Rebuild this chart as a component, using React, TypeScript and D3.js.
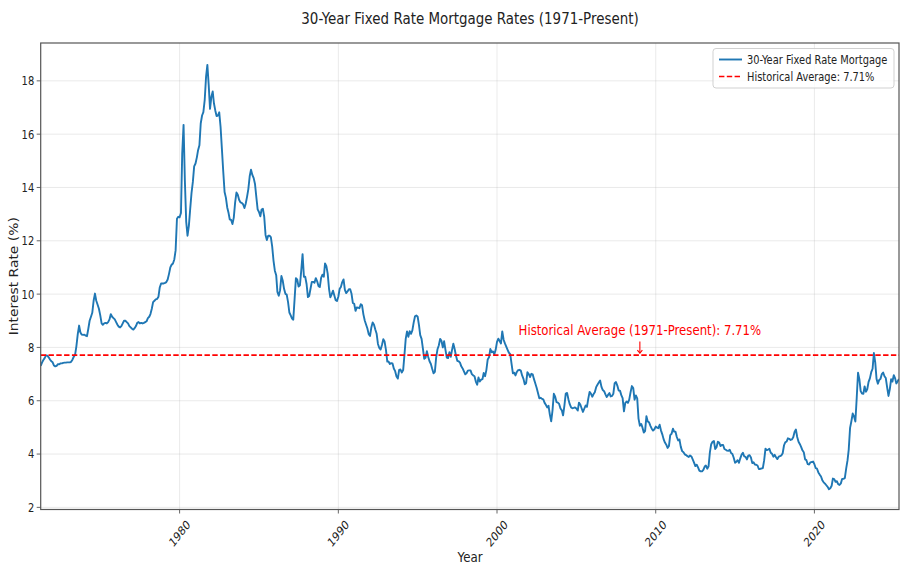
import React from "react";
import * as d3 from "d3";

// Monthly 30-year fixed mortgage rates (%), first value = April 1971
const rates1970s = [
  7.31, 7.43, 7.53, 7.60, 7.70, 7.69, 7.63, 7.55, 7.48,
  7.44, 7.32, 7.29, 7.31, 7.37, 7.37, 7.40, 7.40, 7.42, 7.43, 7.43, 7.44,
  7.44, 7.44, 7.46, 7.54, 7.65, 7.73, 8.05, 8.50, 8.82, 8.56, 8.48, 8.47,
  8.48, 8.44, 8.42, 8.70, 9.00, 9.15, 9.30, 9.75, 10.02, 9.75, 9.60, 9.45,
  9.20, 8.90, 8.85, 8.90, 8.92, 8.90, 8.95, 9.05, 9.25, 9.15, 9.10, 9.05,
  8.95, 8.85, 8.78, 8.75, 8.80, 8.90, 9.00, 9.00, 8.95, 8.90, 8.80, 8.75,
  8.70, 8.67, 8.72, 8.80, 8.92, 8.95, 8.90, 8.92, 8.90, 8.92, 8.95, 8.98,
  9.10, 9.15, 9.25, 9.45, 9.70, 9.75, 9.80, 9.82, 9.90, 10.25, 10.40, 10.40,
  10.40, 10.42, 10.45, 10.55, 10.75, 11.00, 11.10, 11.15, 11.30, 11.64, 12.83, 12.90,
];
const rates1980s = [
  12.88, 13.04, 15.28, 16.35, 14.26, 12.71, 12.19, 12.56, 13.20, 13.79, 14.21, 14.79,
  14.90, 15.13, 15.40, 15.58, 16.40, 16.70, 16.83, 17.29, 18.16, 18.60, 17.83, 16.95,
  17.40, 17.60, 17.16, 16.89, 16.68, 16.70, 16.82, 16.27, 15.43, 14.61, 13.83, 13.62,
  13.25, 13.04, 12.80, 12.78, 12.63, 12.87, 13.42, 13.81, 13.73, 13.54, 13.44, 13.42,
  13.37, 13.23, 13.39, 13.65, 13.94, 14.42, 14.67, 14.47, 14.35, 14.13, 13.64, 13.18,
  13.08, 12.92, 13.17, 13.20, 12.91, 12.22, 12.03, 12.19, 12.19, 12.14, 11.78, 11.26,
  10.88, 10.71, 10.08, 9.94, 10.14, 10.68, 10.51, 10.20, 10.01, 9.98, 9.70, 9.31,
  9.20, 9.08, 9.04, 9.83, 10.60, 10.54, 10.28, 10.33, 10.89, 11.50, 10.65, 10.65,
  10.38, 9.89, 9.93, 10.20, 10.46, 10.46, 10.43, 10.60, 10.48, 10.30, 10.27, 10.61,
  10.73, 10.65, 11.15, 11.05, 10.77, 10.20, 9.88, 9.99, 10.13, 9.95, 9.77, 9.74,
];
const rates1990s = [
  9.90, 10.20, 10.27, 10.45, 10.55, 10.16, 10.04, 10.10, 10.18, 10.18, 10.01, 9.67,
  9.64, 9.37, 9.50, 9.49, 9.47, 9.62, 9.58, 9.24, 9.01, 8.86, 8.71, 8.50,
  8.43, 8.76, 8.94, 8.85, 8.67, 8.51, 8.13, 7.98, 7.92, 8.09, 8.31, 8.22,
  7.91, 7.47, 7.47, 7.38, 7.41, 7.40, 7.21, 7.11, 6.91, 6.83, 7.16, 7.17,
  7.06, 7.15, 7.68, 8.32, 8.60, 8.40, 8.61, 8.51, 8.64, 8.93, 9.17, 9.20,
  9.15, 8.83, 8.46, 8.32, 7.96, 7.57, 7.61, 7.86, 7.64, 7.48, 7.38, 7.20,
  7.03, 7.08, 7.62, 7.93, 8.07, 8.32, 8.25, 8.00, 8.23, 7.92, 7.62, 7.60,
  7.82, 7.65, 7.90, 8.14, 7.94, 7.69, 7.50, 7.48, 7.43, 7.29, 7.21, 7.10,
  6.99, 7.04, 7.13, 7.14, 7.14, 7.00, 6.95, 6.92, 6.72, 6.60, 6.87, 6.72,
  6.79, 6.81, 7.04, 6.92, 7.15, 7.55, 7.63, 7.94, 7.82, 7.85, 7.74, 7.91,
];
const rates2000s = [
  8.21, 8.33, 8.24, 8.15, 8.60, 8.29, 8.15, 8.03, 7.91, 7.80, 7.75, 7.38,
  7.03, 7.05, 6.95, 7.08, 7.15, 7.16, 7.13, 6.95, 6.82, 6.62, 6.66, 7.07,
  7.00, 6.89, 7.01, 6.99, 6.81, 6.65, 6.49, 6.29, 6.09, 6.11, 6.07, 6.05,
  5.92, 5.84, 5.75, 5.81, 5.48, 5.23, 5.63, 6.26, 6.15, 5.95, 5.93, 5.88,
  5.71, 5.64, 5.45, 5.83, 6.27, 6.29, 6.06, 5.87, 5.75, 5.72, 5.73, 5.75,
  5.71, 5.63, 5.93, 5.86, 5.72, 5.58, 5.70, 5.82, 5.77, 6.07, 6.33, 6.27,
  6.15, 6.25, 6.32, 6.51, 6.60, 6.68, 6.76, 6.52, 6.40, 6.36, 6.24, 6.14,
  6.22, 6.29, 6.16, 6.18, 6.26, 6.66, 6.70, 6.57, 6.38, 6.38, 6.21, 6.10,
  5.60, 5.92, 5.97, 5.92, 6.04, 6.32, 6.55, 6.48, 6.04, 6.20, 6.09, 5.33,
  5.06, 5.13, 5.00, 4.81, 4.86, 5.42, 5.22, 5.19, 5.06, 4.95, 4.88, 4.93,
];
const rates2010s = [
  5.03, 4.99, 4.97, 5.10, 4.89, 4.74, 4.56, 4.43, 4.35, 4.23, 4.30, 4.71,
  4.76, 4.95, 4.84, 4.84, 4.64, 4.51, 4.55, 4.27, 4.11, 4.07, 3.99, 3.96,
  3.92, 3.89, 3.95, 3.91, 3.80, 3.68, 3.55, 3.60, 3.50, 3.38, 3.35, 3.35,
  3.41, 3.53, 3.57, 3.45, 3.54, 4.07, 4.37, 4.46, 4.49, 4.19, 4.26, 4.46,
  4.43, 4.30, 4.34, 4.34, 4.19, 4.16, 4.13, 4.12, 4.16, 4.04, 4.00, 3.86,
  3.67, 3.71, 3.77, 3.67, 3.84, 3.98, 4.05, 3.91, 3.89, 3.80, 3.94, 3.96,
  3.87, 3.66, 3.69, 3.61, 3.60, 3.57, 3.44, 3.44, 3.46, 3.47, 3.77, 4.20,
  4.15, 4.17, 4.20, 4.05, 4.01, 3.90, 3.97, 3.88, 3.81, 3.90, 3.92, 3.95,
  4.03, 4.33, 4.44, 4.47, 4.59, 4.57, 4.53, 4.55, 4.63, 4.83, 4.92, 4.64,
  4.46, 4.37, 4.27, 4.14, 4.07, 3.80, 3.77, 3.62, 3.61, 3.69, 3.70, 3.72,
];
const rates2020s = [
  3.62, 3.47, 3.45, 3.31, 3.23, 3.16, 3.02, 2.94, 2.89, 2.83, 2.77, 2.68,
  2.72, 2.81, 3.08, 3.06, 2.96, 2.98, 2.87, 2.84, 2.90, 3.07, 3.07, 3.10,
  3.45, 3.76, 4.17, 4.98, 5.23, 5.52, 5.41, 5.22, 6.11, 7.05, 6.81, 6.36,
  6.27, 6.26, 6.54, 6.34, 6.43, 6.71, 6.84, 7.07, 7.20, 7.79, 7.44, 6.82,
  6.64, 6.78, 6.82, 7.00, 7.06, 6.92, 6.85, 6.50, 6.18, 6.43, 6.81, 6.72,
  6.96, 6.84, 6.65, 6.73, 6.82,
];
const yTicks = [2, 4, 6, 8, 10, 12, 14, 16, 18];
const xTickYears = [1980, 1990, 2000, 2010, 2020];
const historicalAverage = 7.71;
const seriesLabel = "30-Year Fixed Rate Mortgage";
const averageLabel = `Historical Average: ${historicalAverage}%`;
const annotationLabel = `Historical Average (1971-Present): ${historicalAverage}%`;
const titleText = "30-Year Fixed Rate Mortgage Rates (1971-Present)";

const allRates = [...rates1970s, ...rates1980s, ...rates1990s, ...rates2000s, ...rates2010s, ...rates2020s];
const data = allRates.map((v, i) => ({ date: new Date(1971, 3 + i, 1), value: v }));

const W = 913, H = 566;
const left = 40.7, right = 899, top = 43, bottom = 509.5;
const SX = 0.85;
const FONT = "DejaVu Sans, Verdana, sans-serif";
const BLUE = "#1f77b4";

function T({ x, y, size, anchor = "start", fill = "#222", rotate = 0, sx = SX, children }: any) {
  return (
    <text
      transform={`translate(${x},${y}) scale(${sx},1)${rotate ? ` rotate(${rotate})` : ""}`}
      fontSize={size}
      fontFamily={FONT}
      textAnchor={anchor}
      fill={fill}
    >
      {children}
    </text>
  );
}

export default function App() {
  const x = d3.scaleTime().domain([data[0].date, data[data.length - 1].date]).range([left, right]);
  const y = d3.scaleLinear().domain([1.92, 19.42]).range([bottom, top]);
  const line = d3.line<any>().x((d) => x(d.date)).y((d) => y(d.value));
  const yAvg = y(historicalAverage);
  const annX = x(new Date(2009, 0, 1));
  const annY = y(8.45);

  return (
    <svg width={W} height={H} style={{ position: "absolute", left: 0, top: 0, background: "#fff" }}>
      <defs>
        <clipPath id="plot">
          <rect x={left} y={top} width={right - left} height={bottom - top} />
        </clipPath>
      </defs>
      <rect x={0} y={0} width={W} height={H} fill="#fff" />
      {/* grid */}
      <g stroke="#b0b0b0" strokeOpacity={0.3} strokeWidth={0.9}>
        {yTicks.map((t) => (
          <line key={"gy" + t} x1={left} x2={right} y1={y(t)} y2={y(t)} />
        ))}
        {xTickYears.map((yr) => (
          <line key={"gx" + yr} x1={x(new Date(yr, 0, 1))} x2={x(new Date(yr, 0, 1))} y1={top} y2={bottom} />
        ))}
      </g>
      {/* series */}
      <g clipPath="url(#plot)">
        <path d={line(data) || ""} fill="none" stroke={BLUE} strokeWidth={1.9} strokeLinejoin="round" />
        <line x1={left} x2={right} y1={yAvg} y2={yAvg} stroke="#ff0000" strokeWidth={1.6} strokeDasharray="5.4,2.4" />
      </g>
      {/* spines */}
      <rect x={left} y={top} width={right - left} height={bottom - top} fill="none" stroke="#555" strokeWidth={1.2} />
      {/* y ticks */}
      {yTicks.map((t) => (
        <g key={"ty" + t}>
          <line x1={left - 4} x2={left} y1={y(t)} y2={y(t)} stroke="#555" strokeWidth={0.9} />
          <T x={left - 6.5} y={y(t) + 4.4} size={12.4} sx={0.8} anchor="end">{t}</T>
        </g>
      ))}
      {/* x ticks */}
      {xTickYears.map((yr) => {
        const xx = x(new Date(yr, 0, 1));
        return (
          <g key={"tx" + yr}>
            <line x1={xx} x2={xx} y1={bottom} y2={bottom + 4} stroke="#555" strokeWidth={0.9} />
            <T x={xx} y={bottom + 24} size={12.4} sx={0.8} anchor="middle" rotate={-45}>
              <tspan dy="0.35em">{yr}</tspan>
            </T>
          </g>
        );
      })}
      {/* axis labels */}
      <T x={470} y={562} size={13.9} anchor="middle">Year</T>
      <T x={18} y={(top + bottom) / 2} size={13.9} anchor="middle" rotate={-90}>Interest Rate (%)</T>
      {/* title */}
      <T x={470} y={24} size={15.8} anchor="middle">{titleText}</T>
      {/* annotation */}
      <T x={annX} y={annY} size={13.8} anchor="middle" fill="#ff0000">{annotationLabel}</T>
      <g stroke="#ff0000" strokeWidth={1.1} fill="none">
        <line x1={annX} x2={annX} y1={annY + 6} y2={yAvg - 2} />
        <path d={`M${annX - 2.5},${yAvg - 5} L${annX},${yAvg - 2} L${annX + 2.5},${yAvg - 5}`} />
      </g>
      {/* legend */}
      <g>
        <rect x={713} y={48.5} width={181} height={39.5} rx={3} fill="#fff" fillOpacity={0.8} stroke="#cccccc" strokeWidth={0.9} />
        <line x1={719} x2={742} y1={59.5} y2={59.5} stroke={BLUE} strokeWidth={1.9} />
        <T x={747} y={63.5} size={11.6}>{seriesLabel}</T>
        <line x1={719} x2={742} y1={76.5} y2={76.5} stroke="#ff0000" strokeWidth={1.6} strokeDasharray="5.4,2.4" />
        <T x={747} y={80.5} size={11.6}>{averageLabel}</T>
      </g>
    </svg>
  );
}
